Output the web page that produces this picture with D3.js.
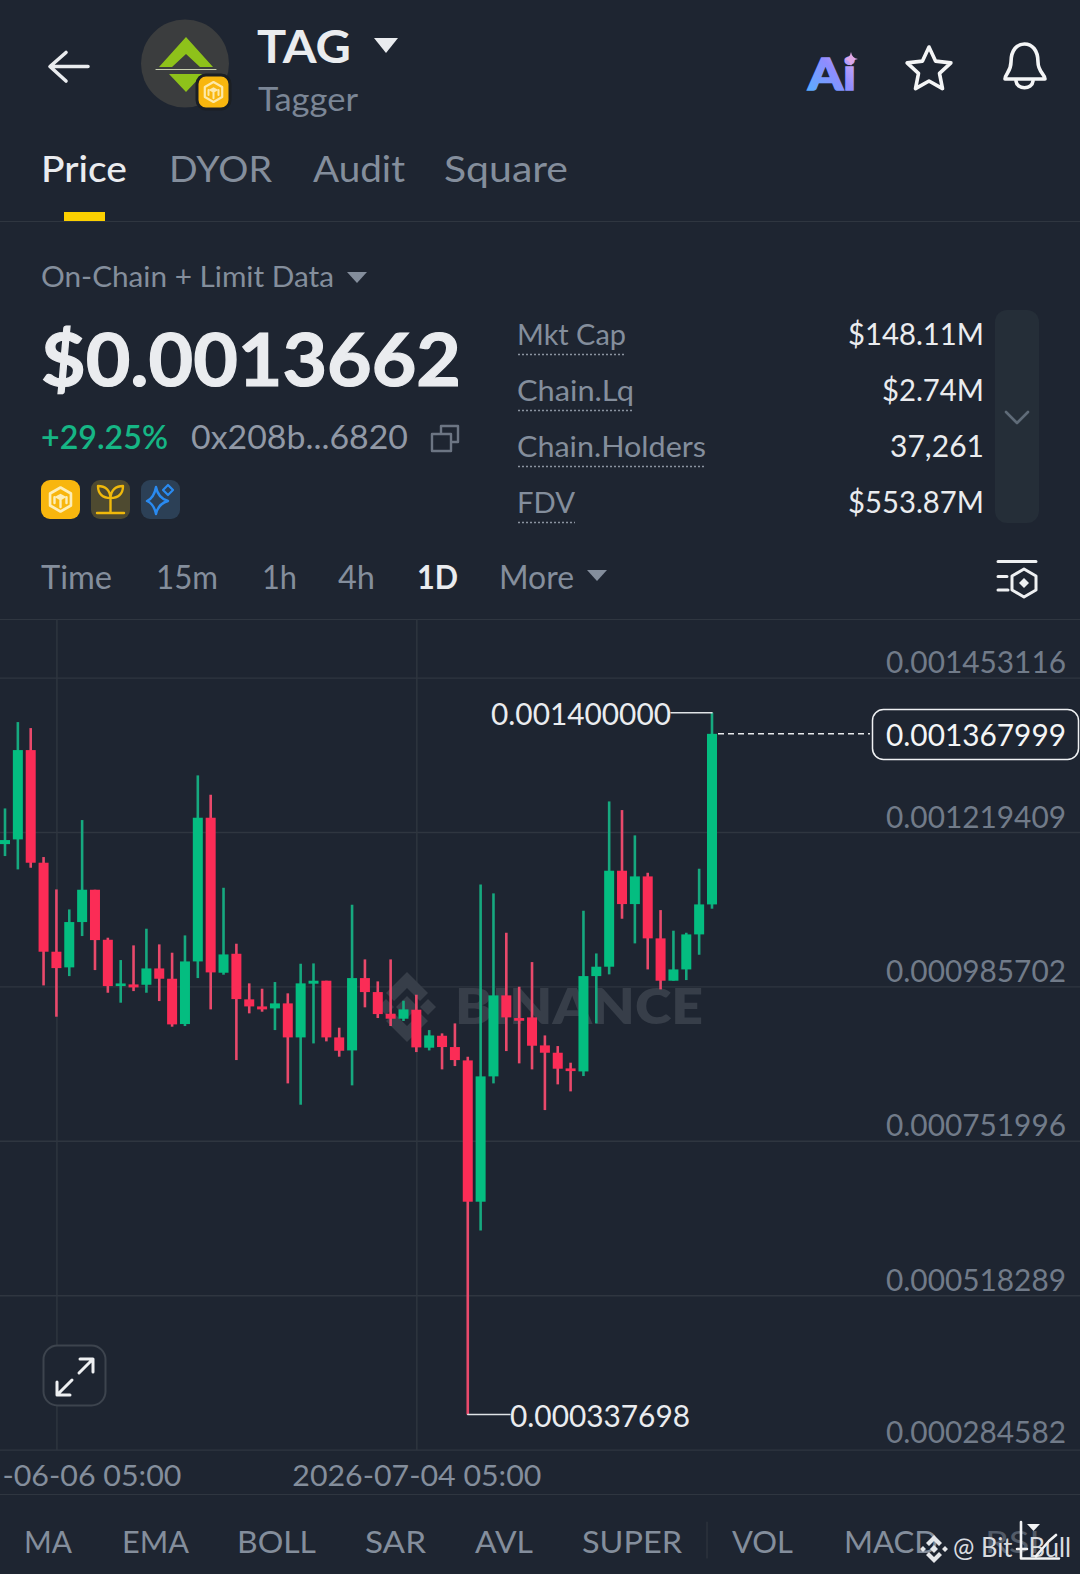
<!DOCTYPE html>
<html><head><meta charset="utf-8">
<script src="https://cdn.jsdelivr.net/npm/d3@7/dist/d3.min.js"></script>
<style>html,body{margin:0;padding:0;background:#1e2531;overflow:hidden}svg{display:block;font-family:Lato,"Noto Sans",sans-serif}</style>
</head><body><div id="c"></div>
<script>
// ---------- chart values (prices in millionths) ----------
const days=["2026-06-02","2026-06-03","2026-06-04","2026-06-05","2026-06-06","2026-06-07","2026-06-08","2026-06-09","2026-06-10","2026-06-11","2026-06-12","2026-06-13","2026-06-14","2026-06-15","2026-06-16","2026-06-17","2026-06-18","2026-06-19","2026-06-20","2026-06-21","2026-06-22","2026-06-23","2026-06-24","2026-06-25","2026-06-26","2026-06-27","2026-06-28","2026-06-29","2026-06-30","2026-07-01","2026-07-02","2026-07-03","2026-07-04","2026-07-05","2026-07-06","2026-07-07","2026-07-08","2026-07-09","2026-07-10","2026-07-11","2026-07-12","2026-07-13","2026-07-14","2026-07-15","2026-07-16","2026-07-17","2026-07-18","2026-07-19","2026-07-20","2026-07-21","2026-07-22","2026-07-23","2026-07-24","2026-07-25","2026-07-26","2026-07-27"];
const opens=[1201.1,1208.2,1343.4,1172.9,1038.2,1014.5,1083.1,1132.0,1056.3,986.2,988.7,988.2,1012.9,997.3,928.7,1023.5,1241.0,1006.4,1035.1,966.1,955.4,952.4,960.0,908.5,989.8,994.3,908.5,888.8,998.3,977.1,944.3,936.8,950.4,892.9,911.0,893.9,873.7,659.8,849.5,972.1,937.8,938.8,896.4,885.3,861.6,857.0,1001.3,1015.5,1160.8,1110.3,1152.2,1058.4,994.3,1011.4,1064.4,1109.8];
const closes=[1207.2,1343.4,1172.9,1038.2,1013.4,1083.1,1132.0,1055.8,986.2,990.2,984.2,1012.9,997.3,928.2,1023.5,1241.0,1006.9,1034.1,966.5,955.4,950.9,960.0,908.5,990.3,994.3,908.5,888.3,998.3,977.1,943.8,936.8,950.9,893.4,911.5,893.9,874.2,659.8,849.5,972.1,938.8,933.7,895.9,885.3,861.1,857.5,1001.3,1015.5,1160.8,1110.3,1152.2,1058.4,994.3,1011.4,1064.4,1109.8,1367.999];
const highs=[1255.1,1385.8,1376.7,1181.5,1132.5,1102.2,1237.5,1132.0,1059.4,1025.6,1047.8,1073.0,1049.3,1036.7,1062.9,1305.1,1275.8,1135.0,1050.3,990.3,982.2,992.3,975.2,1020.0,1020.5,994.3,923.2,1109.3,1026.6,993.3,1026.6,964.0,973.1,919.6,914.6,929.7,879.3,1140.1,1126.5,1066.9,985.2,1022.5,911.5,895.4,870.2,1100.2,1035.6,1265.7,1252.6,1214.3,1157.7,1101.2,1070.0,1066.9,1163.8,1400.0];
const lows=[1183.0,1162.8,1165.3,987.2,939.8,1001.3,1061.9,1010.4,976.1,961.0,978.6,976.1,963.5,924.7,925.7,998.3,950.9,1003.4,874.2,944.9,947.4,919.6,838.9,806.6,899.4,902.5,879.3,835.9,954.0,937.8,925.7,933.3,886.3,888.8,860.1,865.1,337.698,616.4,838.9,887.8,869.2,860.1,798.5,837.4,826.8,850.0,929.7,1003.9,1088.1,1050.8,1011.4,981.2,994.3,995.3,1033.6,1103.3];
const priceTicks=[1453.116,1219.409,985.702,751.996,518.289,284.582];
const timeTicks=["2026-06-06","2026-07-04"];
const timeLabels=["-06-06 05:00","2026-07-04 05:00"];
const symbol="TAG", tokenName="Tagger", headlinePrice="$0.0013662", change="+29.25%", contract="0x208b...6820", dataSource="On-Chain + Limit Data";
const tabs=["Price","DYOR","Audit","Square"];
const intervals=["Time","15m","1h","4h","1D","More"];
const statNames=["Mkt Cap","Chain.Lq","Chain.Holders","FDV"];
const statValues=["$148.11M","$2.74M","37,261","$553.87M"];
const indicators=["MA","EMA","BOLL","SAR","AVL","SUPER","VOL","MACD","RSI"];

// ---------- palette / layout ----------
const W=1080,H=1574,BG="#1e2531",UP="#04bd80",DOWN="#fb2c56",UPW="#16a97f",DOWNW="#e9496b",GRID="#2f3640",TXT="#eaecef",MUT="#848e9c",AXT="#717b89";
const svg=d3.select("#c").append("svg").attr("width",W).attr("height",H).attr("viewBox",`0 0 ${W} ${H}`);
svg.append("rect").attr("width",W).attr("height",H).attr("fill",BG);
const defs=svg.append("defs");
const gr=defs.append("linearGradient").attr("id","aig").attr("x1",0).attr("x2",1).attr("y1",1).attr("y2",0);
gr.append("stop").attr("offset","0%").attr("stop-color","#4fb4ff");
gr.append("stop").attr("offset","55%").attr("stop-color","#8f8cff");
gr.append("stop").attr("offset","100%").attr("stop-color","#e6b5ef");

function T(s,x0,x1,y,size,weight,color,g){
  const t=(g||svg).append("text").text(s).attr("x",x0).attr("y",y).attr("font-size",size).attr("font-weight",weight).attr("fill",color);
  if(x1!=null)t.attr("textLength",x1-x0).attr("lengthAdjust","spacingAndGlyphs");
  return t;
}
function P(d,o){const p=svg.append("path").attr("d",d).attr("fill",(o&&o.fill)||"none");
  if(o&&o.stroke)p.attr("stroke",o.stroke).attr("stroke-width",o.w||2).attr("stroke-linecap","round").attr("stroke-linejoin","round");
  return p;}
function R(x,y,w,h,rx,fill,stroke,sw){return svg.append("rect").attr("x",x).attr("y",y).attr("width",w).attr("height",h).attr("rx",rx).attr("fill",fill).attr("stroke",stroke||"none").attr("stroke-width",sw||0);}
function cube(cx,cy,s,col){
  P(`M${cx} ${cy-s}L${cx+s*.87} ${cy-s*.5}V${cy+s*.5}L${cx} ${cy+s}L${cx-s*.87} ${cy+s*.5}V${cy-s*.5}Z`,{stroke:col,w:s*.22});
  P(`M${cx-s*.5} ${cy-s*.2}L${cx} ${cy+s*.08}L${cx+s*.5} ${cy-s*.2}L${cx} ${cy-s*.48}Z`,{fill:col});
  P(`M${cx} ${cy+s*.08}V${cy+s*.62}M${cx-s*.5} ${cy-s*.2}V${cy+s*.3}M${cx+s*.5} ${cy-s*.2}V${cy+s*.3}`,{stroke:col,w:s*.2});
}

// ---------- header ----------
P("M88 66.5H51M66 52.5L50 66.5L66 81",{stroke:TXT,w:3.6});
svg.append("circle").attr("cx",185).attr("cy",63.5).attr("r",44).attr("fill","#3b3d3e");
P("M186 37L213 67H200L186 54L172 67H159Z",{fill:"#8ec21a"});
P("M169 74H203L186 92Z",{fill:"#8ec21a"});
P("M156 69.5H216",{stroke:"#c8d0b0",w:1.2});
R(197,75,33,34,9,"#f8b60e","#1b1f24",3);
cube(213.5,92,10,"#fde9a8");
T(symbol,257,351,63,46,700,TXT);
P("M374 38H398L386 53Z",{fill:TXT});
T(tokenName,258,358,111,32,400,"#7b8696");
// right icons
T("Ai",808,856,90,44,900,"url(#aig)").attr("stroke","url(#aig)").attr("stroke-width",1.4);
P("M851 52Q852 58 858 59Q852 60 851 66Q850 60 844 59Q850 58 851 52Z",{fill:"#dfa8e6"});
P(d3.range(10).map(i=>{const r=i%2?11:23,a=-Math.PI/2+i*Math.PI/5;return(i?"L":"M")+(929+r*Math.cos(a)).toFixed(1)+" "+(70+r*Math.sin(a)).toFixed(1)}).join("")+"Z",{stroke:"#f4f5f6",w:3.6});
P("M1005 79C1005 74 1011 72 1011 62C1011 50 1017 44 1024.5 44C1032 44 1038 50 1038 62C1038 72 1045 74 1045 79Z",{stroke:"#f4f5f6",w:3.6});
P("M1016 81C1017 90 1032 90 1033 81",{stroke:"#f4f5f6",w:3.6});
// tabs
const tabBox=[[41,127],[169,272],[313,405],[444,568]];
tabs.forEach((s,i)=>T(s,tabBox[i][0],tabBox[i][1],182,37,i?400:500,i?MUT:TXT));
R(64,212,41,9,0,"#fcd000");
P("M0 221.5H1080",{stroke:GRID,w:1});
// price block
T(dataSource,41,334,287,29,400,MUT);
P("M347 272H367L357 283Z",{fill:MUT});
T(headlinePrice,41,461,386,73,700,TXT).attr("stroke",TXT).attr("stroke-width",1.2);
T(change,41,168,448.5,33,600,"#16b685");
T(contract,191,408,448.5,33,400,"#9199a6");
P("M441 434V426H458V442H451M432 434H451V451H432Z",{stroke:"#6c7583",w:2.4});
R(41,480,39,39,9,"#f8b60e");cube(60.5,499.5,12,"#fdeeb8");
R(91,480,39,39,9,"#4e4a30");
P("M97 513H124M110.5 513V498M110.5 498C103 498 98 494 98 486C105 486 110 490 110.5 498C111 490 116 486 123 486C123 494 118 498 110.5 498Z",{stroke:"#f0b90b",w:2.4});
R(141,480,39,39,9,"#2c4056");
P("M156 487Q158 498 168 501Q158 504 156 514Q154 504 147 501Q154 498 156 487Z",{stroke:"#2a8af0",w:2.4});
P("M168 485L173 490L168 495L163 490Z",{stroke:"#2a8af0",w:2.2});
// stats
const statBox=[[517,626],[517,634],[517,706],[517,575]], statY=[344.5,400.5,456.5,512.5], valX=[848,882,890,848];
statNames.forEach((s,i)=>{
  T(s,statBox[i][0],statBox[i][1],statY[i],29,400,MUT);
  svg.append("line").attr("x1",statBox[i][0]+1).attr("x2",statBox[i][1]).attr("y1",statY[i]+10).attr("y2",statY[i]+10).attr("stroke","#8a93a0").attr("stroke-width",1.5).attr("stroke-dasharray","2 2");
  T(statValues[i],valX[i],984,statY[i],30,400,TXT);
});
R(995,310,44,213,12,"#252e38");
P("M1006 412L1017 423L1028 412",{stroke:"#5f6b78",w:2.6});
// intervals
const ivBox=[[41,112],[156,218],[262,297],[338,375],[417,458],[499,574]];
intervals.forEach((s,i)=>T(s,ivBox[i][0],ivBox[i][1],589,32,i==4?700:400,i==4?TXT:MUT));
P("M587 570H607L597 581Z",{fill:MUT});
P("M998 561.5H1036M998 576.5H1007M998 590H1008",{stroke:"#eef0f2",w:3});
P("M1024 569L1036 576V590L1024 597L1012 590V576Z",{stroke:"#eef0f2",w:3});
P("M1024 578L1029 583L1024 588L1019 583Z",{fill:"#eef0f2"});
P("M0 619.5H1080",{stroke:GRID,w:1});

// ---------- chart ----------
const x=d3.scalePoint().domain(days).range([5,712]);
const y=d3.scaleLinear().domain([284.582,1453.116]).range([1449.6,677.6]);
const fmt=v=>(v/1e6).toFixed(9);
const yAxis=svg.append("g").call(d3.axisRight(y).tickValues(priceTicks).tickSize(1080).tickFormat(fmt));
yAxis.select(".domain").remove();
yAxis.selectAll("line").attr("stroke",GRID).attr("stroke-width",1.4);
yAxis.selectAll("text").attr("x",1066).attr("dy",d=>d===284.582?-7.5:-5).attr("text-anchor","end").attr("font-size",30).attr("font-family","Lato").attr("fill",AXT).attr("textLength",180).attr("lengthAdjust","spacingAndGlyphs");
const xAxis=svg.append("g").attr("transform","translate(0,1450)")
  .call(d3.axisBottom(x).tickValues(timeTicks).tickSize(-831).tickPadding(0).tickFormat((d,i)=>timeLabels[i]));
xAxis.select(".domain").remove();
xAxis.selectAll("line").attr("stroke",GRID).attr("stroke-width",1.4);
xAxis.selectAll("text").attr("x",124.5).attr("y",36).attr("dy",0).attr("text-anchor","end").attr("font-size",29).attr("font-family","Lato").attr("fill",MUT)
  .attr("textLength",(d,i)=>i?249:179).attr("lengthAdjust","spacingAndGlyphs");
P("M0 1494.5H1080",{stroke:GRID,w:1});

// watermark
const wm="#373e49";
P("M407 972L428 993L420 1001L407 988L394 1001L386 993ZM378 1007L386 999L394 1007L386 1015ZM436 1007L428 999L420 1007L428 1015ZM407 996L418 1007L407 1018L396 1007ZM407 1042L386 1021L394 1013L407 1026L420 1013L428 1021Z",{fill:wm});
T("BINANCE",455,703,1024,50,800,wm);

const candles=svg.append("g").selectAll("g").data(days).join("g");
const isUp=i=>closes[i]>=opens[i];
candles.append("line").attr("x1",d=>x(d)).attr("x2",d=>x(d))
  .attr("y1",(d,i)=>y(highs[i])).attr("y2",(d,i)=>y(lows[i]))
  .attr("stroke",(d,i)=>isUp(i)?UPW:DOWNW).attr("stroke-width",2.6);
candles.append("rect").attr("x",d=>x(d)-5).attr("width",10)
  .attr("y",(d,i)=>y(Math.max(opens[i],closes[i])))
  .attr("height",(d,i)=>Math.max(2.5,Math.abs(y(opens[i])-y(closes[i]))))
  .attr("fill",(d,i)=>isUp(i)?UP:DOWN);

// extremes + last price
const hiI=d3.maxIndex(highs), loI=d3.minIndex(lows), last=closes[closes.length-1];
const hiY=y(highs[hiI]), loY=y(lows[loI]);
P(`M671 ${hiY}H${x(days[hiI])}`,{stroke:"#dfe3e6",w:1.5});
T(fmt(highs[hiI]),491,671,hiY+12,30,400,TXT);
P(`M${x(days[loI])} ${loY}H510`,{stroke:"#dfe3e6",w:1.5});
T(fmt(lows[loI]),510,690,loY+12,30,400,TXT);
svg.append("line").attr("x1",718).attr("x2",870).attr("y1",y(last)).attr("y2",y(last)).attr("stroke","#e6e8ea").attr("stroke-width",1.5).attr("stroke-dasharray","6 4");
R(872.5,709.5,206,50,11,BG,"#eef0f2",1.5);
T(fmt(last),886,1066,745.5,30,400,"#f4f5f6");

// expand button
R(43.5,1345.5,62,60,14,"#1e2531","#3d444e",2);
P("M57 1395L72 1380M57 1382V1395H70M79 1373L93 1359M80 1359H93V1372",{stroke:"#eef0f2",w:3});

// ---------- indicators ----------
const indBox=[[24,72],[122,189],[237,316],[365,426],[475,533],[582,682],[732,793],[844,938],[985,1040]];
indicators.forEach((s,i)=>T(s,indBox[i][0],indBox[i][1],1553,31,400,i==8?"#525b68":MUT));
P("M707 1522V1558",{stroke:GRID,w:1.2});
// overlay
const ov="#e4e6e9";
P("M934 1535L942 1543L939 1546L934 1541L929 1546L926 1543ZM920 1549L923 1546L926 1549L923 1552ZM948 1549L945 1546L942 1549L945 1552ZM934 1545L938 1549L934 1553L930 1549ZM934 1563L926 1555L929 1552L934 1557L939 1552L942 1555Z",{fill:ov});
T("@ Bit -Bull",953,1071,1557,27,400,"#d9dce0");
P("M1021 1522V1558.5H1059M1017 1549H1027M1036 1556L1049 1541L1056 1535",{stroke:"#f2f3f4",w:2.6});
P("M1027 1524H1040L1033.5 1531Z",{fill:"#f2f3f4"});
</script></body></html>
